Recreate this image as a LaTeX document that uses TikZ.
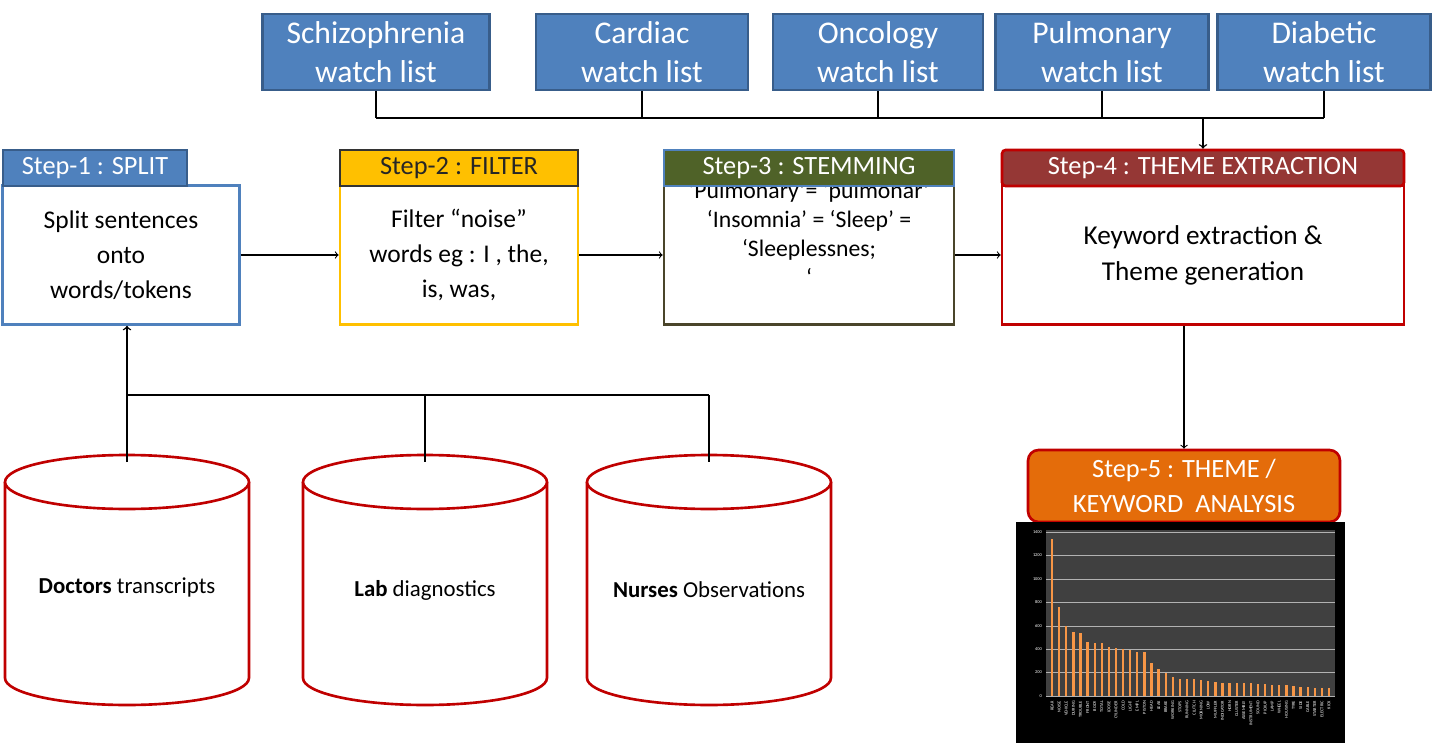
\documentclass[tikz,border=0pt]{standalone}
\usepackage{fontspec}
\setmainfont{Carlito}
\usepackage{tikz}
\usetikzlibrary{calc,positioning,arrows}
\definecolor{listblue}{HTML}{4F81BD}
\definecolor{listedge}{HTML}{385D8A}
\definecolor{filteryel}{HTML}{FFC000}
\definecolor{stemgreen}{HTML}{4F6228}
\definecolor{stemedge}{HTML}{4A452A}
\definecolor{themered}{HTML}{953735}
\definecolor{boxred}{HTML}{C00000}
\definecolor{anaorange}{HTML}{E46C0A}
\definecolor{barorange}{HTML}{F79646}
\definecolor{plotgray}{HTML}{404040}

\begin{document}
\begin{tikzpicture}[
	%	style def
    x=0.02cm, y=-0.02cm, >=to,
    watch list/.style={draw=listedge, fill=listblue, line width=1.2pt, text=white, align=center,
        minimum height=1.52cm, font=\fontsize{18}{22}\selectfont},
    step head/.style={line width=1.5pt, text=white, minimum height=0.72cm, font=\fontsize{15}{17}\selectfont},
    step body/.style={fill=white, line width=1.5pt, minimum height=2.78cm, align=center,
        font=\fontsize{14.5}{20}\selectfont},
    cyl/.style={draw=boxred, line width=1.5pt, fill=white},
    important line/.style={thick},
    every node/.style={inner sep=2pt}
    ]
	\useasboundingbox (0,0) rectangle (1443,743);

	% watch lists
	\node[watch list, minimum width=4.54cm] (w1) at (376,52) {Schizophrenia\\watch list};
	\node[watch list, minimum width=4.24cm] (w2) at (642,52) {Cardiac\\watch list};
	\node[watch list, minimum width=4.2cm] (w3) at (878,52) {Oncology\\watch list};
	\node[watch list, minimum width=4.26cm] (w4) at (1102,52) {Pulmonary\\watch list};
	\node[watch list, minimum width=4.26cm] (w5) at (1324,52) {Diabetic\\watch list};

	% step boxes
	\node[step body, draw=listblue, minimum width=4.74cm] (s1) at (121,255) {Split sentences\\onto\\words/tokens};
	\node[step head, draw=listedge, fill=listblue, minimum width=3.68cm] (s1h) at (95,168) {Step-1 : SPLIT};
	\node[step body, draw=filteryel, minimum width=4.76cm] (s2) at (459,255) {Filter “noise”\\words eg : I , the,\\is, was,};
	\node[step head, draw=black!80, fill=filteryel, text=black!85, minimum width=4.76cm] (s2h) at (459,168) {Step-2 : FILTER};
	\node[step body, draw=stemedge, minimum width=5.8cm] (s3) at (809,255) {};
	\node[anchor=north, align=center, font=\fontsize{13.5}{16.5}\selectfont, inner sep=0pt] (s3t) at (809,181)
	    {‘Pulmonary’= ‘pulmonar’\\‘Insomnia’ = ‘Sleep’ =\\‘Sleeplessnes;\\‘};
	\node[step head, draw=listblue, fill=stemgreen, minimum width=5.8cm] (s3h) at (809,168) {Step-3 : STEMMING};
	\node[step body, draw=boxred, minimum width=8.04cm, font=\fontsize{15.5}{20.5}\selectfont] (s4) at (1203,255) {Keyword extraction \&\\Theme generation};
	\node[step head, draw=boxred, fill=themered, minimum width=8.04cm, rounded corners=2pt] (s4h) at (1203,168) {Step-4 : THEME EXTRACTION};
	\node[step head, draw=boxred, fill=anaorange, minimum width=6.24cm, minimum height=1.44cm, rounded corners=6pt,
	    align=center, font=\fontsize{15}{20}\selectfont] (s5h) at (1184,486) {Step-5 : THEME /\\KEYWORD\ \ ANALYSIS};

	% demo connection of watch lists
	\coordinate (bus) at (0,118);
	\foreach \w in {w1,w2,w3,w4,w5}
	    \draw[important line] (\w.south) -- (\w.south |- bus);
	\draw[important line] (w1.south |- bus) -- (w5.south |- bus);
	\draw[important line,->] (s4h.north |- bus) -- (s4h.north);

	% step arrows
	\draw[->, semithick] (s1) -- (s2);
	\draw[->, semithick] (s2) -- (s3);
	\draw[->, semithick] (s3) -- (s4);
	\draw[->, semithick] (s4.south -| s5h) -- (s5h.north);

	% data sources
	\foreach \cx/\name in {127/d1, 425/d2, 709/d3} {
	    \draw[cyl] (\cx-122,482) -- (\cx-122,678) arc[start angle=180, end angle=360, x radius=2.44cm, y radius=0.54cm] -- (\cx+122,482);
	    \draw[cyl] (\cx,482) ellipse [x radius=2.44cm, y radius=0.54cm];
	    \coordinate (\name) at (\cx,462);
	}
	\node[font=\fontsize{13}{15}\selectfont] (d1t) at (127,587) {\textbf{Doctors} transcripts};
	\node[font=\fontsize{13}{15}\selectfont] (d2t) at (425,590) {\textbf{Lab} diagnostics};
	\node[font=\fontsize{13}{15}\selectfont] (d3t) at (709,590) {\textbf{Nurses} Observations};
	\coordinate (dbus) at (0,395);
	\draw[important line,->] (d1) -- (d1 |- s1.south);
	\draw[important line] (d1 |- dbus) -- (d3 |- dbus);
	\draw[important line] (d2 |- dbus) -- (d2);
	\draw[important line] (d3 |- dbus) -- (d3);

	% keyword chart
	\fill[black] (1016,522) rectangle (1345,743);
	\fill[plotgray] (1046,530) rectangle (1335,697);
	\foreach \v in {0,200,...,1400} {
	    \draw[gray!60, line width=0.2pt] (1046,696-\v*0.1171) -- (1335,696-\v*0.1171);
	    \node[anchor=east, text=white, font=\fontsize{2.5}{3}\selectfont, inner sep=1pt] at (1044,696-\v*0.1171) {\v};
	}
	\foreach \v/\lab [count=\i] in {1340/REAR,760/NOISE,600/VEHICLE,545/DURING,540/TROUBLE,465/FRONT,455/BODY,455/TOTAL,
	    415/LOOSE,410/CYLINDER,405/COLD,395/LIGHT,380/EMPL,380/PISTON,285/HEAD,230/LEAK,200/BRAKE,165/WORKING,
	    145/STOPS,145/RUNNING,145/CLUTCH,135/MORNING,125/LOW,120/MUFFLER,115/INDICATOR,110/HORN,110/CLUSTER,
	    110/ASSEMBLY,110/INSTRUMENT,105/SOUND,100/PICKUP,95/LAMP,95/WHEEL,95/HOUSING,85/TYRE,80/SIDE,
	    75/CABLE,70/STARTER,70/ELECTRIC,70/KICK} {
	    \draw[barorange, line width=1.3pt] (1045+\i*7.1,696) -- (1045+\i*7.1,696-\v*0.1171);
	    \node[rotate=90, anchor=east, text=white, font=\fontsize{2.5}{3}\selectfont, inner sep=1pt] at (1045+\i*7.1,699) {\lab};
	}
\end{tikzpicture}
\end{document}
